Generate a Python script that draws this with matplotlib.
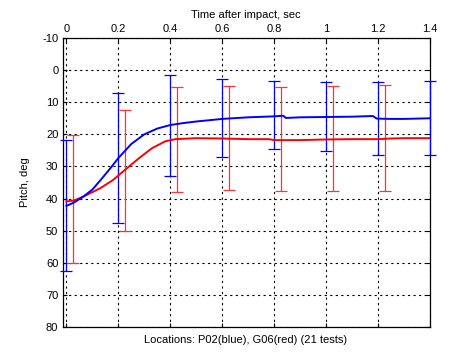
import matplotlib
matplotlib.use("Agg")
import matplotlib.pyplot as plt

# Mean curves
t_blue = [0.0, 0.03, 0.065, 0.1, 0.13, 0.17, 0.2, 0.25, 0.3, 0.35, 0.4, 0.45, 0.5, 0.6, 0.7, 0.8, 0.835, 0.845, 0.9, 1.0, 1.1, 1.18, 1.195, 1.25, 1.3, 1.4]
pitch_blue = [42.3, 41.2, 39.4, 37.2, 34.4, 30.5, 27.4, 23.0, 20.0, 18.2, 17.1, 16.5, 16.0, 15.2, 14.7, 14.4, 14.2, 14.9, 14.7, 14.6, 14.5, 14.3, 15.1, 15.2, 15.2, 15.0]
t_red = [0.0, 0.03, 0.065, 0.1, 0.13, 0.18, 0.225, 0.28, 0.33, 0.38, 0.42, 0.5, 0.6, 0.7, 0.78, 0.8, 0.9, 1.0, 1.1, 1.2, 1.25, 1.3, 1.4]
pitch_red = [40.9, 40.6, 39.4, 38.0, 36.8, 34.2, 31.1, 27.4, 24.3, 22.2, 21.5, 21.2, 21.3, 21.5, 21.5, 21.8, 21.8, 21.6, 21.5, 21.5, 21.3, 21.2, 21.2]

# Error bars (mean, low, high)
eb_t_blue = [0.0, 0.2, 0.4, 0.6, 0.8, 1.0, 1.2, 1.4]
eb_mean_blue = [42.3, 27.4, 17.1, 15.2, 14.4, 14.6, 15.2, 15.0]
eb_top_blue = [21.9, 7.2, 1.4, 2.8, 3.3, 3.7, 3.7, 3.5]
eb_bot_blue = [62.7, 47.7, 32.9, 27.1, 24.7, 25.2, 26.4, 26.4]

eb_t_red = [0.025, 0.225, 0.425, 0.625, 0.825, 1.025, 1.225]
eb_mean_red = [40.6, 31.1, 21.5, 21.5, 21.8, 21.5, 21.5]
eb_top_red = [20.1, 12.4, 5.3, 4.9, 5.3, 4.9, 4.7]
eb_bot_red = [60.2, 50.1, 37.9, 37.3, 37.6, 37.6, 37.6]

x_ticks = [0, 0.2, 0.4, 0.6, 0.8, 1.0, 1.2, 1.4]
x_ticklabels = ["0", "0.2", "0.4", "0.6", "0.8", "1", "1.2", "1.4"]
y_ticks = [-10, 0, 10, 20, 30, 40, 50, 60, 70, 80]

plt.rcParams['font.family'] = ['Liberation Sans', 'DejaVu Sans']
plt.rcParams['axes.unicode_minus'] = False
fig = plt.figure(figsize=(4.74, 3.55), dpi=100)
ax = fig.add_axes([62.5/474, 1-327/355, (430-62.5)/474, (327-38)/355])

def errs(mean, top, bot):
    lo = [m - t for m, t in zip(mean, top)]
    hi = [b - m for m, b in zip(mean, bot)]
    return [lo, hi]

ax.errorbar(eb_t_red, eb_mean_red, yerr=errs(eb_mean_red, eb_top_red, eb_bot_red),
            fmt='none', ecolor=(1, 0.2, 0.2), elinewidth=0.9, capsize=4.2, capthick=0.9, zorder=3)
ax.errorbar(eb_t_blue, eb_mean_blue, yerr=errs(eb_mean_blue, eb_top_blue, eb_bot_blue),
            fmt='none', ecolor=(0, 0, 1), elinewidth=0.9, capsize=4.2, capthick=0.9, zorder=3, clip_on=False)
ax.plot(t_red, pitch_red, color=(1, 0, 0), lw=1.4, zorder=4)
ax.plot(t_blue, pitch_blue, color=(0, 0, 1), lw=1.4, zorder=4)

ax.set_xlim(-0.015, 1.4)
ax.set_ylim(80, -10)
ax.set_xticks(x_ticks)
ax.set_xticklabels(x_ticklabels)
ax.set_yticks(y_ticks)
ax.xaxis.tick_top()
ax.xaxis.set_label_position('top')
ax.tick_params(axis='both', direction='in', length=3, labelsize=8, pad=3,
               top=True, bottom=True, left=True, right=True, width=0.8)
ax.grid(True, color='black', linestyle=(0, (2, 3)), linewidth=0.8)
for s in ax.spines.values():
    s.set_linewidth(0.9)
ax.set_xlabel("Time after impact, sec", fontsize=8, labelpad=4)
ax.set_ylabel("Pitch, deg", fontsize=8, labelpad=9)
fig.text(246/474, 1-340/355, "Locations: P02(blue), G06(red) (21 tests)", fontsize=8,
         ha='center', va='center')

fig.savefig("out.png", dpi=100)
